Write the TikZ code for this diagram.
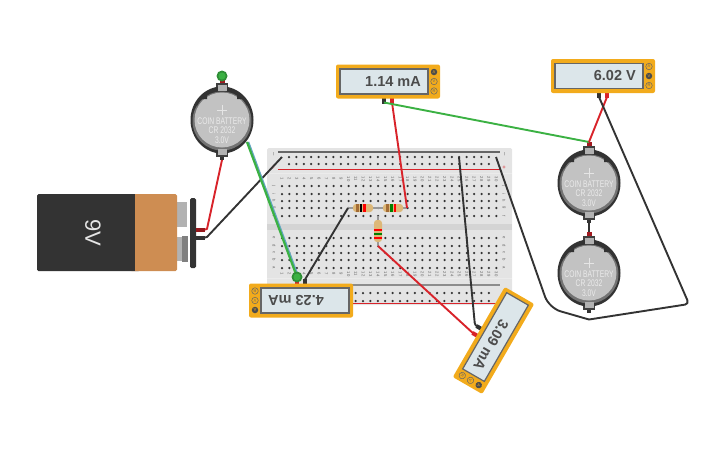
\documentclass[tikz,border=0pt]{standalone}
\usepackage{fontspec}
\setmainfont{Liberation Sans}
\newfontfamily\coinfont[FakeStretch=0.7]{Liberation Sans}
\definecolor{wireblack}{HTML}{333333}
\definecolor{wirered}{HTML}{D8232A}
\definecolor{wiregreen}{HTML}{3BB143}
\definecolor{meterbody}{HTML}{F2AB1C}
\definecolor{meterlcd}{HTML}{DCE6EA}
\definecolor{boardgrey}{HTML}{E4E4E4}
\definecolor{coingrey}{HTML}{C2C2C2}
\definecolor{ninetan}{HTML}{CE8D52}
\definecolor{restan}{HTML}{DDB878}
\tikzset{
    WB/.style ={wireblack,line width=1.9pt,line join=round},
    WR/.style ={wirered,line width=1.9pt,line join=round},
    WG/.style ={wiregreen,line width=1.9pt,line join=round},
    HO/.style ={circle,fill=black!80,inner sep=0pt,minimum size=2.5pt},
    TI/.style ={font=\fontsize{4.2}{4.2}\selectfont,text=black!60,inner sep=0pt},
    BT/.style ={circle,draw=black!60,line width=.5pt,inner sep=0pt,minimum size=6.5pt,font=\fontsize{4}{4}\selectfont,text=black!60},
    BS/.style ={circle,fill=black!70,text=meterbody,inner sep=0pt,minimum size=6.5pt,font=\fontsize{4}{4}\selectfont},
    RE/.style ={fill=#1,draw=none}}
% name, x, y
\newcommand{\coincell}[3]{
    \begin{scope}[shift={(#2,#3)}]
        \fill[wirered!75!black] (-2.5,-41) rectangle (2.5,-35);
        \fill[wireblack] (-2,33) rectangle (2,40);
        \fill[black!75] (-6,-37) rectangle (6,-28);
        \fill[black!75] (-6,28) rectangle (6,37);
        \fill[wireblack] (0,0) ellipse [x radius=31.5pt,y radius=33.5pt];
        \fill[black!55] (0,1) circle (29.5pt);
        \fill[coingrey] (0,0) circle (27.5pt);
        \fill[wireblack] (-15,-29) -- (-15,-21) -- (-21,-21) -- (-25,-14) -- (-25,-18) -- (-20,-24) -- cycle;
        \fill[wireblack] (15,-29) -- (15,-21) -- (21,-21) -- (25,-14) -- (25,-18) -- (20,-24) -- cycle;
        \fill[black!30] (-4.5,-35) rectangle (4.5,-29);
        \fill[black!30] (-4.5,29) rectangle (4.5,35);
        \draw[white!90!black,line width=.5pt] (0,-15) -- (0,-5) (-5,-10) -- (5,-10);
        \node[text=white!92!black,align=center,inner sep=0pt,font=\coinfont\fontsize{9.6}{9.2}\selectfont] (#1) at (0,10.5) {COIN BATTERY\\CR 2032\\3.0V};
        \coordinate (#1p) at (0,-41);
        \coordinate (#1n) at (0,40);
    \end{scope}}
% name, x, y, angle, value, which button
\newcommand{\meter}[6]{
    \begin{scope}[shift={(#2,#3)},rotate=#4]
        \fill[wireblack] (-6,16) rectangle (-2,22);
        \fill[wirered] (2,16) rectangle (6,22);
        \fill[meterbody,rounded corners=2pt] (-52,-17) rectangle (52,17);
        \draw[black!60,fill=meterlcd,line width=1.2pt] (-48,-12.5) rectangle (40,12.5);
        \node[anchor=east,rotate=#4,inner sep=0pt,font=\bfseries\fontsize{14.5}{14.5}\selectfont,text=black!70] (#1) at (33,0) {#5};
        \foreach \b/\y in {A/-9.5,V/0,R/9.5}{
            \def\cur{#6}
            \ifx\b\cur
                \node[BS,rotate=#4] at (46,\y) {\b};
            \else
                \node[BT,rotate=#4] at (46,\y) {\b};
            \fi
        }
        \coordinate (#1b) at (-4,21);
        \coordinate (#1r) at (4,21);
    \end{scope}}
\begin{document}
\begin{tikzpicture}[x=1pt,y=-1pt]
    \useasboundingbox (0,0) rectangle (725,453);
    % breadboard
    \fill[boardgrey,rounded corners=1.5pt] (267,148) rectangle (512,305);
    \fill[black!17] (267,224) rectangle (512,230);
    \draw[white!92!black,line width=.6pt] (267,173) -- (512,173) (267,278) -- (512,278);
    \draw[black!60,line width=1.1pt] (278,152) -- (500,152);
    \draw[wirered,line width=.8pt] (278,169) -- (500,169);
    \draw[black!45,line width=1.1pt] (278,285) -- (500,285);
    \draw[wirered,line width=.8pt] (278,303) -- (500,303);
    \foreach \x in {0,...,27}{
        \foreach \y in {157,164,293,301}{
            \node[HO] at (289+\x*7.4,\y) {};}}
    \foreach \x in {0,...,29}{
        \foreach \y in {186,194,201,208,216,238,246,253,260,268}{
            \node[HO] at (282+\x*7.39,\y) {};}
        \pgfmathtruncatemacro{\colnum}{\x+1}
        \node[TI,rotate=-90] at (282+\x*7.39,179) {\colnum};
        \node[TI,rotate=-90] at (282+\x*7.39,274) {\colnum};}
    \foreach \l/\y in {j/186,i/194,h/201,g/208,f/216,e/238,d/246,c/253,b/260,a/268}{
        \node[TI,rotate=-90] at (274,\y) {\l};
        \node[TI,rotate=-90] at (504,\y) {\l};}
    \foreach \x in {273,504}{
        \node[TI,rotate=-90,font=\fontsize{6}{6}\selectfont] at (\x,154) {--};
        \node[TI,font=\fontsize{6}{6}\selectfont,text=wirered] at (\x,168) {+};}
    % resistors
    \draw[black!40,line width=1.3pt] (348,208) -- (378,208) -- (407,208);
    \draw[black!40,line width=1.3pt] (378,216) -- (378,246);
    \fill[RE=restan,rounded corners=3pt] (353,204) rectangle (373,212);
    \fill[RE=restan,rounded corners=3pt] (383,204) rectangle (403,212);
    \fill[RE=restan,rounded corners=3pt] (374,220) rectangle (382,242);
    \fill[RE=brown!85!black] (356,204) rectangle (358.5,212);
    \fill[RE=black] (359.5,204) rectangle (362,212);
    \fill[RE=red] (363,204) rectangle (365.5,212);
    \fill[RE=brown!85!black] (386,204) rectangle (388.5,212);
    \fill[RE=green!50!black] (390,204) rectangle (392.5,212);
    \fill[RE=red] (393.5,204) rectangle (396,212);
    \fill[RE=red] (374,228.5) rectangle (382,230.5);
    \fill[RE=green!50!black] (374,232.5) rectangle (382,234.5);
    \fill[RE=red] (374,237) rectangle (382,239);
    \coordinate (r1a) at (348,208);
    \coordinate (r2b) at (407,208);
    \coordinate (r3b) at (378,246);
    % board holes used by the wires
    \coordinate (hnegl) at (282,157);
    \coordinate (hnegm) at (459,157);
    \coordinate (hnegr) at (496,157);
    % 9V battery
    \fill[black!30] (177,202) rectangle (187,227);
    \fill[black!30] (177,237) rectangle (187,261);
    \fill[black!50] (182,236) rectangle (188,262);
    \fill[wireblack,rounded corners=1.5pt] (190,198) rectangle (196,268);
    \fill[wireblack,rounded corners=1.5pt] (140,194) -- (37,194) -- (37,271) -- (140,271) -- cycle;
    \fill[ninetan,rounded corners=1.5pt] (130,194) rectangle (177,271);
    \fill[wireblack] (130,194) rectangle (135,271);
    \node[rotate=-90,text=white!90!black,font=\fontsize{22}{22}\selectfont,inner sep=0pt] (volt) at (93,233) {9V};
    \fill[wirered!70!black] (196,227.5) rectangle (205,231.5);
    \fill[wireblack] (196,235.5) rectangle (205,239.5);
    \coordinate (nineP) at (205,229.5);
    \coordinate (nineN) at (205,237.5);
    % coin cells and meters
    \coincell{coinA}{222}{120}
    \coincell{coinB}{589}{183}
    \coincell{coinC}{589}{273}
    \meter{mOne}{388}{81.5}{0}{1.14 mA}{A}
    \meter{mTwo}{603}{76}{0}{6.02 V}{V}
    \meter{mThree}{301}{300.5}{180}{4.23 mA}{A}
    \meter{mFour}{493.5}{340.5}{-120}{3.09 mA}{A}
    \coordinate (joinC) at (589,319.5);
    % wires
    \draw[WR] (nineP) -- (207,229) -- (coinAn);
    \draw[WB] (nineN) -- (207,237) -- (hnegl);
    \draw[cyan!50!gray,line width=2.2pt] (248.2,142) -- (298.2,277);
    \draw[WG,line width=2.2pt] (247,142) -- (297,277);
    \fill[wiregreen!80!black] (222,76) circle (5.5pt);
    \fill[wiregreen] (222,76) circle (3.5pt);
    \fill[wiregreen!80!black] (297,277) circle (5.5pt);
    \fill[wiregreen] (297,277) circle (3.5pt);
    \draw[WB] (r1a) -- (mThreeb);
    \draw[WR] (mOner) -- (r2b);
    \draw[WG] (mOneb) -- (coinBp);
    \draw[WR] (mTwor) -- (coinBp);
    \draw[WB,rounded corners=4pt] (mTwob) -- (689,304) -- (joinC);
    \draw[WB,rounded corners=12pt] (hnegr) -- (549,308) -- (joinC);
    \draw[WR] (r3b) -- (mFourr);
    \draw[WB,rounded corners=3pt] (hnegm) -- (475,326) -- (mFourb);
    \draw[WB] (coinBn) -- (coinCp);
\end{tikzpicture}
\end{document}
